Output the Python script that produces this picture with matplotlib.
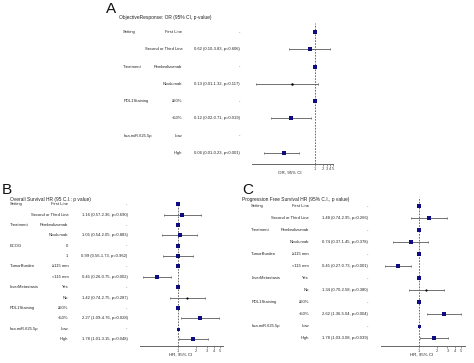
import numpy as np
import matplotlib
matplotlib.use("Agg")
import matplotlib.pyplot as plt
from matplotlib import transforms
from matplotlib.ticker import NullLocator, FixedLocator, FixedFormatter

plt.rcParams['font.family'] = ['Liberation Sans', 'DejaVu Sans']

nan = np.nan

# ---------------- Panel A : Objective response ----------------
A_categories = ["Setting", "", "Treatment", "", "PDL1Staining", "", "hsa.miR.625.5p", ""]
A_levels = ["First Line", "Second or Third Line", "Pembrolizumab", "Nivolumab",
            "≥50%", "<50%", "Low", "High"]
A_est = [1, 0.62, 1, 0.13, 1, 0.12, nan, 0.06]
A_lo = [nan, 0.10, nan, 0.005, nan, 0.02, nan, 0.01]
A_hi = [nan, 3.83, nan, 1.32, nan, 0.71, nan, 0.23]
A_text = ["-", "0.62 (0.10-3.83, p=0.606)", "-", "0.13 (0.01-1.32, p=0.117)",
          "-", "0.12 (0.02-0.71, p=0.019)", "-", "0.06 (0.01-0.23, p<0.001)"]

# ---------------- Panel B : Overall survival ----------------
B_categories = ["Setting", "", "Treatment", "", "ECOG", "", "TumorBurden", "",
                "LiverMetastasis", "", "PDL1Staining", "", "hsa.miR.625.5p", ""]
B_levels = ["First Line", "Second or Third Line", "Pembrolizumab", "Nivolumab",
            "0", "1", "≥115 mm", "<115 mm", "Yes", "No", "≥50%", "<50%", "Low", "High"]
B_est = [1, 1.16, 1, 1.05, 1, 0.99, 1, 0.45, 1, 1.42, 1, 2.27, 1, 1.78]
B_lo = [nan, 0.57, nan, 0.54, nan, 0.56, nan, 0.26, nan, 0.74, nan, 1.09, nan, 1.01]
B_hi = [nan, 2.36, nan, 2.05, nan, 1.73, nan, 0.75, nan, 2.75, nan, 4.76, nan, 3.15]
B_text = ["-", "1.16 (0.57-2.36, p=0.690)", "-", "1.05 (0.54-2.05, p=0.883)",
          "-", "0.99 (0.56-1.73, p=0.962)", "-", "0.45 (0.26-0.75, p=0.002)",
          "-", "1.42 (0.74-2.75, p=0.287)", "-", "2.27 (1.09-4.76, p=0.028)",
          "-", "1.78 (1.01-3.15, p=0.048)"]

# ---------------- Panel C : Progression free survival ----------------
C_categories = ["Setting", "", "Treatment", "", "TumorBurden", "",
                "LiverMetastasis", "", "PDL1Staining", "", "hsa.miR.625.5p", ""]
C_levels = ["First Line", "Second or Third Line", "Pembrolizumab", "Nivolumab",
            "≥115 mm", "<115 mm", "Yes", "No", "≥50%", "<50%", "Low", "High"]
C_est = [1, 1.48, 1, 0.74, 1, 0.45, 1, 1.34, 1, 2.62, 1, 1.78]
C_lo = [nan, 0.74, nan, 0.37, nan, 0.27, nan, 0.70, nan, 1.36, nan, 1.03]
C_hi = [nan, 2.95, nan, 1.45, nan, 0.73, nan, 2.58, nan, 5.04, nan, 3.08]
C_text = ["-", "1.48 (0.74-2.95, p=0.266)", "-", "0.74 (0.37-1.45, p=0.378)",
          "-", "0.45 (0.27-0.73, p=0.001)", "-", "1.34 (0.70-2.58, p=0.380)",
          "-", "2.62 (1.36-5.04, p=0.004)", "-", "1.78 (1.03-3.08, p=0.039)"]

x_ticks = [1, 2, 3, 4, 5]

# styling: box sizes in pixels, and marker shape ('s' square, 'o' small dot)
A_box = [3.5, 4.5, 5, 2.5, 4, 4, 0, 5]
A_shape = ['s', 's', 's', 'o', 's', 's', 's', 's']
B_box = [3.5, 4.5, 4, 4, 3.5, 4, 3.5, 4, 5, 2.2, 3.5, 4.5, 3, 4.5]
B_shape = ['s'] * 9 + ['o'] + ['s'] * 4
C_box = [3.5, 4.5, 4.5, 4, 4, 4, 5, 2.2, 3.5, 4.5, 3, 4.5]
C_shape = ['s'] * 7 + ['o'] + ['s'] * 4

W, H = 474, 363
fig = plt.figure(figsize=(W / 100, H / 100), dpi=100)
fig.patch.set_facecolor('white')

NAVY = '#0d0d80'
LINE = '#5a5a5a'
TXT = '#222222'
FS = 3.0


def fx(x):
    return x / W


def fy(y):
    return 1 - y / H


def panel(cats, levels, est, lo, hi, txt, box, shape, ax_x0, ax_x1, row0, rowN,
          axis_y, top_y, xlim, cat_x, lvl_x, est_x, xlabel, xlabel_x):
    n = len(levels)
    s = (rowN - row0) / (n - 1)
    ylim_top = -(row0 - top_y) / s
    ylim_bot = (axis_y - row0) / s
    ax = fig.add_axes([fx(ax_x0), fy(axis_y), (ax_x1 - ax_x0) / W, (axis_y - top_y) / H])
    ax.patch.set_visible(False)
    ax.set_xscale('log')
    ax.set_xlim(xlim)
    ax.set_ylim(ylim_bot, ylim_top)
    for sp in ['left', 'right', 'top']:
        ax.spines[sp].set_visible(False)
    ax.spines['bottom'].set_color('#666666')
    ax.spines['bottom'].set_linewidth(0.7)
    ax.set_yticks([])
    ax.xaxis.set_major_locator(FixedLocator(x_ticks))
    ax.xaxis.set_major_formatter(FixedFormatter([str(t) for t in x_ticks]))
    ax.xaxis.set_minor_locator(NullLocator())
    ax.tick_params(axis='x', length=1.5, width=0.4, pad=1, labelsize=FS,
                   colors='#444444')
    ax.axvline(1, color='#555555', lw=0.6, ls=(0, (2.0, 1.5)), zorder=1)

    e = np.array(est, dtype=float)
    l = np.array(lo, dtype=float)
    h = np.array(hi, dtype=float)
    ys = np.arange(n)
    m = ~np.isnan(l)
    ax.errorbar(e[m], ys[m], xerr=[e[m] - l[m], h[m] - e[m]], fmt='none',
                ecolor=LINE, elinewidth=0.6, capsize=1.0, capthick=0.5, zorder=2)
    for i in range(n):
        if np.isnan(e[i]) or box[i] <= 0:
            continue
        if shape[i] == 'o':
            ax.plot(e[i], i, marker='o', ms=box[i] * 0.72, color='black',
                    mew=0, zorder=3)
        else:
            ax.plot(e[i], i, marker='s', ms=box[i] * 0.72, color=NAVY,
                    mew=0, zorder=3)

    tr = transforms.blended_transform_factory(fig.transFigure, ax.transData)
    for i in range(n):
        if cats[i]:
            ax.text(fx(cat_x), i, cats[i], transform=tr, ha='left', va='center',
                    fontsize=FS, color=TXT)
        ax.text(fx(lvl_x), i, levels[i], transform=tr, ha='right', va='center',
                fontsize=FS, color=TXT)
        ax.text(fx(est_x), i, txt[i], transform=tr, ha='right', va='center',
                fontsize=FS, color=TXT)
    fig.text(fx(xlabel_x), fy(axis_y + 8.5), xlabel, ha='center', va='center',
             fontsize=3.2, color=TXT)
    return ax


# Panel A
panel(A_categories, A_levels, A_est, A_lo, A_hi, A_text, A_box, A_shape,
      252, 333, 32, 153, 164, 23, (0.0035, 5.05), 123.3, 182.3, 240,
      "OR, 95% CI", 290)
fig.text(fx(106), fy(9), "A", ha='left', va='center', fontsize=11, color='#111111')
fig.text(fx(119), fy(17.3), "ObjectiveResponse: OR (95% CI, p-value)", ha='left',
         va='center', fontsize=3.5, color=TXT)

# Panel B
panel(B_categories, B_levels, B_est, B_lo, B_hi, B_text, B_box, B_shape,
      140, 223, 204.3, 339, 345.7, 200.7, (0.23, 5.55), 10, 68.3, 127.5,
      "HR, 95% CI", 181)
fig.text(fx(2), fy(190), "B", ha='left', va='center', fontsize=11, color='#111111')
fig.text(fx(10), fy(199), "Overall Survival HR (95 C.I.: p value)", ha='left',
         va='center', fontsize=3.5, color=TXT)

# Panel C
panel(C_categories, C_levels, C_est, C_lo, C_hi, C_text, C_box, C_shape,
      381.3, 464.7, 206, 338.3, 346, 197, (0.238, 5.8), 251.3, 309, 368.3,
      "HR, 95% CI", 422)
fig.text(fx(242), fy(190), "C", ha='left', va='center', fontsize=11, color='#111111')
fig.text(fx(242), fy(199.3), "Progression Free Survival HR (95% C.I., p value)",
         ha='left', va='center', fontsize=3.5, color=TXT)

fig.savefig("out.png", dpi=100, facecolor='white')
